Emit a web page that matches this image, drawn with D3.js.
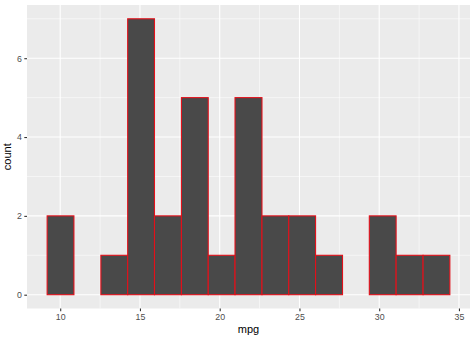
<!DOCTYPE html>
<html>
<head>
<meta charset="utf-8">
<script src="https://cdn.jsdelivr.net/npm/d3@7"></script>
<style>
  body { margin: 0; background: #fff; }
  text { font-family: "Liberation Sans", Arial, sans-serif; }
</style>
</head>
<body>
<div class="chart"></div>
<script>
'use strict';

// histogram bins of mpg (left edge, right edge, count)
const binStarts = [9.18, 10.86, 12.55, 14.23, 15.91, 17.60, 19.28, 20.96, 22.65, 24.33, 26.01, 27.70, 29.38, 31.06, 32.75];
const binEnds   = [10.86, 12.55, 14.23, 15.91, 17.60, 19.28, 20.96, 22.65, 24.33, 26.01, 27.70, 29.38, 31.06, 32.75, 34.43];
const counts    = [2, 0, 1, 7, 2, 5, 1, 5, 2, 2, 1, 0, 2, 1, 1];
const xTicks = [10, 15, 20, 25, 30, 35];
const xMinor = [12.5, 17.5, 22.5, 27.5, 32.5];
const yTicks = [0, 2, 4, 6];
const yMinor = [1, 3, 5, 7];

document.addEventListener('DOMContentLoaded', () => {
  const width = 474, height = 338;
  const margin = {top: 5, left: 27, right: 4, bottom: 29.5};
  const w = width - margin.left - margin.right;
  const h = height - margin.top - margin.bottom;

  const svg = d3.select(".chart")
    .append("svg")
    .attr("width", width)
    .attr("height", height);

  const g = svg.append("g")
    .attr("transform", `translate(${margin.left},${margin.top})`);

  // scales with ggplot-like 5% expansion
  const x0 = binStarts[0], x1 = binEnds[binEnds.length - 1];
  const xPad = (x1 - x0) * 0.05;
  const xScale = d3.scaleLinear().domain([x0 - xPad, x1 + xPad]).range([0, w]);
  const yMax = d3.max(counts);
  const yScale = d3.scaleLinear().domain([-yMax * 0.05, yMax * 1.05]).range([h, 0]);

  // panel
  g.append("rect")
    .attr("width", w)
    .attr("height", h)
    .style("fill", "#ebebeb");

  // grid lines
  g.selectAll(".xminor").data(xMinor).enter().append("line")
    .attr("x1", d => xScale(d)).attr("x2", d => xScale(d))
    .attr("y1", 0).attr("y2", h)
    .style("stroke", "#fff").style("stroke-width", 0.55);
  g.selectAll(".yminor").data(yMinor).enter().append("line")
    .attr("x1", 0).attr("x2", w)
    .attr("y1", d => yScale(d)).attr("y2", d => yScale(d))
    .style("stroke", "#fff").style("stroke-width", 0.55);
  g.selectAll(".xmajor").data(xTicks).enter().append("line")
    .attr("x1", d => xScale(d)).attr("x2", d => xScale(d))
    .attr("y1", 0).attr("y2", h)
    .style("stroke", "#fff").style("stroke-width", 1.1);
  g.selectAll(".ymajor").data(yTicks).enter().append("line")
    .attr("x1", 0).attr("x2", w)
    .attr("y1", d => yScale(d)).attr("y2", d => yScale(d))
    .style("stroke", "#fff").style("stroke-width", 1.1);

  // bars
  const bins = counts.map((c, i) => ({x0: binStarts[i], x1: binEnds[i], count: c}));
  g.selectAll(".bar")
    .data(bins)
    .enter()
    .append("rect")
    .attr("class", "bar")
    .attr("x", d => xScale(d.x0))
    .attr("y", d => yScale(d.count))
    .attr("width", d => xScale(d.x1) - xScale(d.x0))
    .attr("height", d => yScale(0) - yScale(d.count))
    .style("fill", "#494949")
    .style("stroke", "#e3101a")
    .style("stroke-width", 1.1);

  // axes
  const xAxis = d3.axisBottom(xScale).tickValues(xTicks).tickSize(2.7).tickPadding(2.5);
  const yAxis = d3.axisLeft(yScale).tickValues(yTicks).tickSize(2.7).tickPadding(2.5);

  const gx = g.append("g")
    .attr("transform", `translate(0,${h})`)
    .call(xAxis);
  const gy = g.append("g").call(yAxis);

  [gx, gy].forEach(a => {
    a.select(".domain").remove();
    a.selectAll(".tick line").style("stroke", "#333").style("stroke-width", 1.1);
    a.selectAll(".tick text")
      .style("fill", "#4d4d4d")
      .style("font-size", "8.8px")
      .style("font-family", "Liberation Sans, Arial, sans-serif");
  });

  // axis titles
  svg.append("text")
    .attr("x", margin.left + w / 2)
    .attr("y", height - 5)
    .attr("text-anchor", "middle")
    .style("font-size", "11px")
    .style("fill", "#000")
    .text("mpg");
  svg.append("text")
    .attr("transform", `translate(11,${margin.top + h / 2}) rotate(-90)`)
    .attr("text-anchor", "middle")
    .style("font-size", "11px")
    .style("fill", "#000")
    .text("count");
});
</script>
</body>
</html>
